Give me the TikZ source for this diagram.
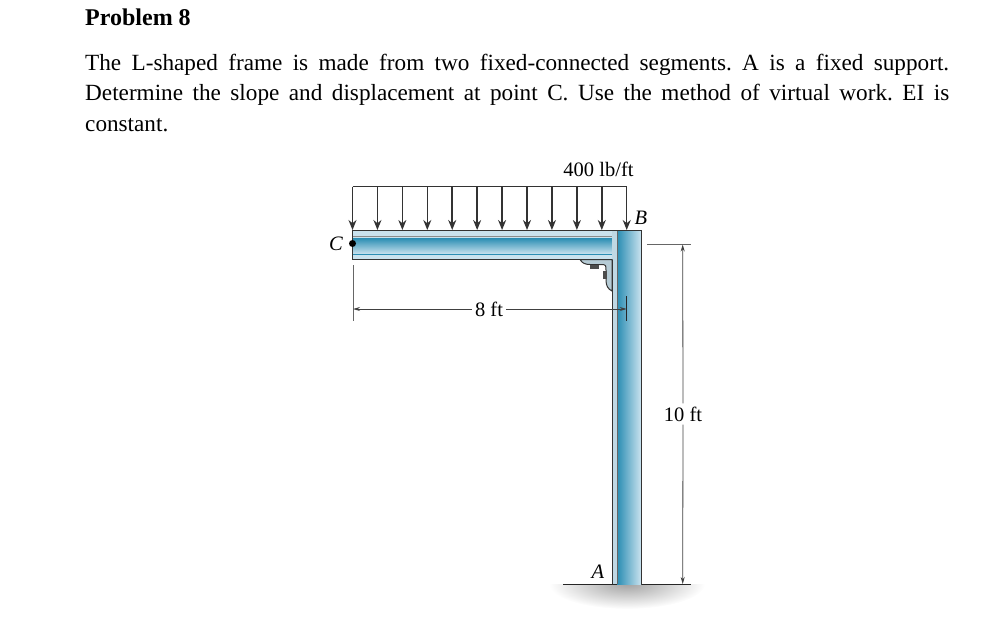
\documentclass[tikz,border=0pt]{standalone}
\usepackage{fontspec}
\setmainfont{Liberation Serif}
\usetikzlibrary{positioning}
\usetikzlibrary{calc}
\usetikzlibrary{arrows.meta}
\definecolor{steeldark}{HTML}{2A8DB3}
\definecolor{steellight}{HTML}{C9E2EE}
\definecolor{steelpale}{HTML}{BFD8E4}
\tikzset{
  bodyline/.style={anchor=base west,inner sep=0pt,font=\fontsize{23.2}{30.6}\selectfont\frenchspacing},
  figlabel/.style={font=\fontsize{20.5}{24}\selectfont,inner sep=0pt},
  figletter/.style={font=\fontsize{20.5}{24}\selectfont\itshape,inner sep=0pt},
  loadarrow/.style={line width=1.5pt,draw=black!80,-{Stealth[length=10pt,width=8pt]}},
  dimline/.style={line width=0.8pt,draw=black!75,-{Stealth[length=7pt,width=4pt]}},
  extline/.style={line width=0.9pt,draw=black!60},
  outline/.style={line width=1pt,draw=black!80}
}
\begin{document}
\begin{tikzpicture}[x=1pt,y=-1pt]
\useasboundingbox (0,0) rectangle (994,619);

\node (title) at (85,17) [anchor=west,inner sep=0pt,font=\fontsize{24}{28}\selectfont\bfseries] {Problem 8};
\node (line1) at (85,70.5) [bodyline] {\makebox[864pt][s]{The L-shaped frame is made from two fixed-connected segments. A is a fixed support.}};
\node (line2) at (85,100.5) [bodyline] {\makebox[864pt][s]{Determine the slope and displacement at point C. Use the method of virtual work. EI is}};
\node (line3) at (85,131) [bodyline] {constant.};

% ground
\begin{scope}
\clip (540,584) rectangle (710,619);
\shade [inner color=black!36,outer color=white] (627,584) ellipse (78 and 25);
\end{scope}
\draw [line width=0.9pt,draw=black!85] (563,584) coordinate (gl) -- (691,584) coordinate (gr);

% beam
\fill [steellight] (352.5,230.5) rectangle (612,260);
\fill [top color=steeldark,bottom color=steellight] (352.5,238) rectangle (612,254);
\draw [line width=0.6pt,draw=black!45] (352.5,236) -- (612,236);
\draw [line width=0.6pt,draw=steeldark] (352.5,254) -- (612,254);

% column
\fill [left color=steeldark,right color=steellight] (617,230.5) rectangle (641,584);
\fill [steelpale] (612,230.5) rectangle (617,584);
\draw [line width=0.7pt,draw=black!60] (617,230.5) -- (617,584);

% gusset
\draw [outline,fill=steelpale!85!gray] (580,259.5) .. controls (582,263) and (585,264.5) .. (590,264.5) -- (602,264.5) .. controls (606,264.5) and (606,266) .. (606,270) -- (606,280) .. controls (606,286) and (608,289) .. (612,291) -- (612,259.5) -- cycle;
\fill [black!70] (590,265) rectangle (599,268.5);
\fill [black!70] (603,271) rectangle (606.5,279);

% outlines
\draw [outline] (612,259.5) -- (352.5,259.5) -- (352.5,230.5) -- (641,230.5) -- (641,584);
\draw [outline] (612,259.5) -- (612,584);

% load
\foreach \i in {0,...,11} {
\coordinate (top\i) at ($(352.5,186.7) + \i*(24.93,0)$);
\coordinate (tip\i) at ($(352.5,230) + \i*(24.93,0)$);
\draw [loadarrow] (top\i) -- (tip\i);
}
\draw [line width=1.2pt,draw=black!80] (top0) -- (top11);

\node (load) at (598.5,169) [figlabel] {400 lb/ft};
\node (B) at (641,218) [figletter] {B};
\node (C) at (336,244) [figletter] {C};
\node (A) at (598,572) [figletter] {A};
\node (Cdot) at (352.5,243.5) [circle,fill=black,inner sep=0pt,minimum size=7pt] {};

% 8 ft
\coordinate (e1a) at (353,265);
\coordinate (e1b) at (353,321);
\coordinate (e2a) at (626.7,296);
\coordinate (e2b) at (626.7,321);
\draw [extline] (e1a) -- (e1b);
\draw [line width=0.8pt,draw=black!85] (e2a) -- (e2b);
\node (dim8) at (489,309) [figlabel] {8 ft};
\coordinate (d1) at (353,309);
\coordinate (d2) at (626.7,309);
\draw [dimline] (dim8.west) ++(-3,0) -- (d1);
\draw [dimline] (dim8.east) ++(3,0) -- (d2);

% 10 ft
\coordinate (e3a) at (647,244.5);
\coordinate (e3b) at (691,244.5);
\draw [extline] (e3a) -- (e3b);
\node (dim10) at (683,414) [figlabel] {10 ft};
\coordinate (d3) at (682.7,244.5);
\coordinate (d4) at (682.7,584);
\draw [dimline] (dim10.north) ++(0,-3) -- (d3);
\draw [dimline] (dim10.south) ++(0,3) -- (d4);
\end{tikzpicture}
\end{document}
